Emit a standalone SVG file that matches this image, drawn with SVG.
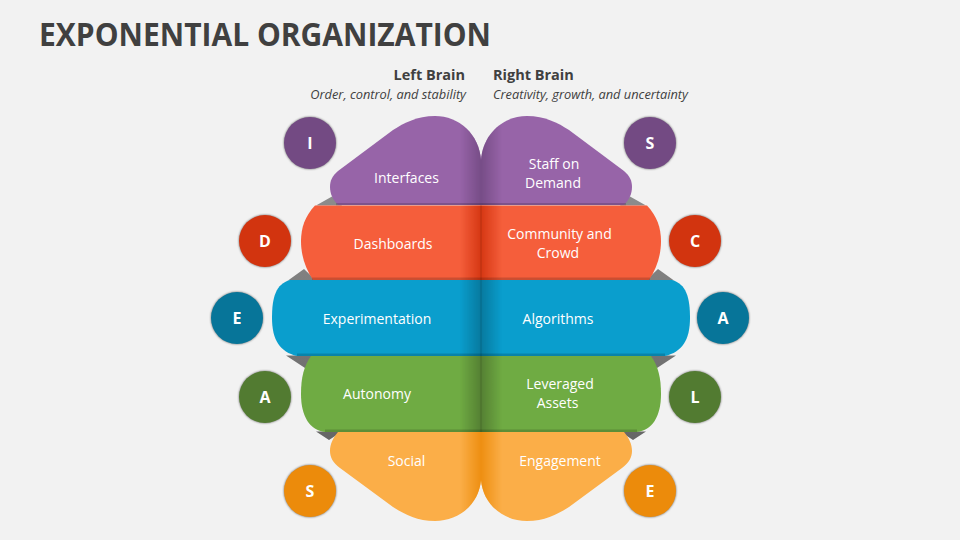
<svg xmlns="http://www.w3.org/2000/svg" width="960" height="540" viewBox="0 0 960 540">
<style>
text{font-family:"Open Sans","Noto Sans","Liberation Sans",sans-serif;}
.t{font-size:33px;font-weight:700;fill:#404040}
.h{font-size:14.5px;font-weight:700;fill:#404040}
.s{font-size:12.8px;font-style:italic;fill:#404040}
.l{font-size:14px;font-weight:500;fill:#fff;text-anchor:middle}
.c{font-size:16px;font-weight:700;fill:#fff;text-anchor:middle}
.cc{filter:url(#sh)}
.g{fill:url(#gy)}
.m{mask:url(#ml)}
.e{fill:#000;fill-opacity:.17}
</style>
<defs>
<filter id="sh" x="-20%" y="-20%" width="140%" height="140%" color-interpolation-filters="sRGB"><feDropShadow dx="0" dy="0" stdDeviation="1" flood-color="#000" flood-opacity=".6"/></filter>
<linearGradient id="gy" gradientUnits="objectBoundingBox" x1="0" x2="0" y1="0" y2="1"><stop offset="0" stop-color="#8c8c8c"/><stop offset="1" stop-color="#666"/></linearGradient>
<linearGradient id="fl" gradientUnits="userSpaceOnUse" x1="460" x2="481" y1="0" y2="0"><stop offset="0" stop-color="#fff" stop-opacity="0"/><stop offset="1" stop-color="#fff" stop-opacity=".9"/></linearGradient>
<mask id="ml" maskUnits="userSpaceOnUse" x="250" y="100" width="240" height="430"><rect x="250" y="100" width="240" height="430" fill="url(#fl)"/></mask>
<path id="p1" d="M481 205V160C479 134 459 116 435 116C417 116 404 123 393 130L338 171C332 176 330 181 330 187C330 194 333 200 338 205Z"/>
<path id="p2" d="M481 205.500V280H313C305 268 301 255 301 241C301 228 305 216 315 205.500Z"/>
<path id="p3" d="M481 280V356H297C280 352 272 340 272 318C272 297 276 284 290 280Z"/>
<path id="p4" d="M481 356V432H325C310 430 301 417 301 394C301 377 304 366 311 356Z"/>
<path id="p5" d="M481 432V480C479 504 459 521 435 521C417 521 404 514 393 507L340 468C333 463 330 457 330 451C330 444 333 438 338 432Z"/>
</defs>
<rect width="960" height="540" fill="#f2f2f2"/>
<text class="t" x="39" y="46" textLength="452" lengthAdjust="spacingAndGlyphs">EXPONENTIAL ORGANIZATION</text>
<text class="h" x="465" y="80" text-anchor="end">Left Brain</text>
<text class="s" x="466" y="99" text-anchor="end">Order, control, and stability</text>
<text class="h" x="493" y="80">Right Brain</text>
<text class="s" x="493" y="99">Creativity, growth, and uncertainty</text>
<g id="connectors">
<path class="g" d="M316 205.500L332 196.500L342 205.500ZM646 205.500L630 196.500L620 205.500ZM288 280.500L304 269L316 280.500ZM674 280.500L658 269L646 280.500ZM286 355.500L305 368L316 355.500ZM676 355.500L657 368L646 355.500ZM316 431.500L329 440L342 431.500ZM646 431.500L633 440L620 431.500Z"/>
</g>
<g id="node-interfaces">
<use href="#p1" fill="#9764a8"/><use href="#p1" fill="#734a83" class="m"/><rect x="336" y="203" width="145" height="2.500" class="e"/>
<circle class="cc" cx="310" cy="143" r="26" fill="#734a83"/><text class="c" x="310" y="149">I</text>
<text class="l" x="406.500" y="183">Interfaces</text></g>
<g id="node-staff">
<use href="#p1" transform="matrix(-1 0 0 1 962 0)" fill="#9764a8"/><use href="#p1" transform="matrix(-1 0 0 1 962 0)" fill="#734a83" class="m"/><rect x="481" y="203" width="145" height="2.500" class="e"/>
<circle class="cc" cx="650" cy="143" r="26" fill="#734a83"/><text class="c" x="650" y="149">S</text>
<text class="l" x="554" y="169">Staff on</text><text class="l" x="553" y="188">Demand</text></g>
<g id="node-dashboards">
<use href="#p2" fill="#f55e3b"/><use href="#p2" fill="#d2340f" class="m"/><rect x="312" y="277.500" width="169" height="2.500" class="e"/>
<circle class="cc" cx="265" cy="241" r="26" fill="#d2340f"/><text class="c" x="265" y="247">D</text>
<text class="l" x="393" y="249">Dashboards</text></g>
<g id="node-community">
<use href="#p2" transform="matrix(-1 0 0 1 962 0)" fill="#f55e3b"/><use href="#p2" transform="matrix(-1 0 0 1 962 0)" fill="#d2340f" class="m"/><rect x="481" y="277.500" width="169" height="2.500" class="e"/>
<circle class="cc" cx="695" cy="241" r="26" fill="#d2340f"/><text class="c" x="695" y="247">C</text>
<text class="l" x="559.500" y="239">Community and</text><text class="l" x="558" y="258">Crowd</text></g>
<g id="node-experimentation">
<use href="#p3" fill="#0a9ecd"/><use href="#p3" fill="#077599" class="m"/><rect x="297" y="353.500" width="184" height="2.500" class="e"/>
<circle class="cc" cx="237" cy="318" r="26" fill="#077599"/><text class="c" x="237" y="324">E</text>
<text class="l" x="377" y="324">Experimentation</text></g>
<g id="node-algorithms">
<use href="#p3" transform="matrix(-1 0 0 1 962 0)" fill="#0a9ecd"/><use href="#p3" transform="matrix(-1 0 0 1 962 0)" fill="#077599" class="m"/><rect x="481" y="353.500" width="184" height="2.500" class="e"/>
<circle class="cc" cx="723" cy="318" r="26" fill="#077599"/><text class="c" x="723" y="324">A</text>
<text class="l" x="558" y="324">Algorithms</text></g>
<g id="node-autonomy">
<use href="#p4" fill="#6fab43"/><use href="#p4" fill="#527b31" class="m"/><rect x="325" y="429.500" width="156" height="2.500" class="e"/>
<circle class="cc" cx="265" cy="397" r="26" fill="#527b31"/><text class="c" x="265" y="403">A</text>
<text class="l" x="377" y="399">Autonomy</text></g>
<g id="node-leveraged">
<use href="#p4" transform="matrix(-1 0 0 1 962 0)" fill="#6fab43"/><use href="#p4" transform="matrix(-1 0 0 1 962 0)" fill="#527b31" class="m"/><rect x="481" y="429.500" width="156" height="2.500" class="e"/>
<circle class="cc" cx="695" cy="397" r="26" fill="#527b31"/><text class="c" x="695" y="403">L</text>
<text class="l" x="560" y="389">Leveraged</text><text class="l" x="557.500" y="408">Assets</text></g>
<g id="node-social">
<use href="#p5" fill="#fbae48"/><use href="#p5" fill="#ec8b0b" class="m"/>
<circle class="cc" cx="310" cy="491" r="26" fill="#ec8b0b"/><text class="c" x="310" y="497">S</text>
<text class="l" x="406.500" y="466">Social</text></g>
<g id="node-engagement">
<use href="#p5" transform="matrix(-1 0 0 1 962 0)" fill="#fbae48"/><use href="#p5" transform="matrix(-1 0 0 1 962 0)" fill="#ec8b0b" class="m"/>
<circle class="cc" cx="650" cy="491" r="26" fill="#ec8b0b"/><text class="c" x="650" y="497">E</text>
<text class="l" x="560" y="466">Engagement</text></g>
<rect id="fold" x="480.500" y="205" width="1" height="227" fill="#000" fill-opacity=".14"/>
</svg>
